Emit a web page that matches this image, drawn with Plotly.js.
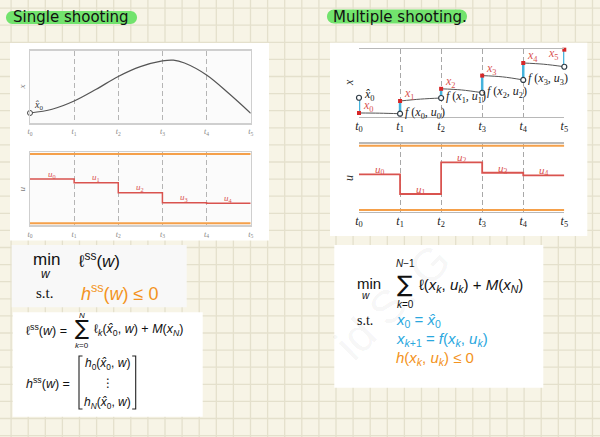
<!DOCTYPE html>
<html><head><meta charset="utf-8">
<script src="https://cdn.plot.ly/plotly-3.0.1.min.js"></script>
<style>html,body{margin:0;padding:0;background:#f7f4e6;} #chart{width:600px;height:437px;}</style>
</head><body><div id="chart"></div>
<script>
// ---------------- DATA ----------------
const tickVals = [0, 1, 2, 3, 4, 5];
const tickLabels = ['<i>t</i><sub>0</sub>', '<i>t</i><sub>1</sub>', '<i>t</i><sub>2</sub>', '<i>t</i><sub>3</sub>', '<i>t</i><sub>4</sub>', '<i>t</i><sub>5</sub>'];
// Single shooting: simulated state trajectory x(t)
const ssTime = [0, 0.5, 1, 1.5, 2, 2.5, 3, 3.25, 3.5, 4, 4.5, 5];
const ssState = [0.142, 0.193, 0.307, 0.469, 0.645, 0.78, 0.86, 0.87, 0.83, 0.665, 0.413, 0.138];
// Single shooting: piecewise constant controls u0..u4
const ssControl = [0.639, 0.586, 0.442, 0.298, 0.289];
// control bounds
const uBounds = [0, 1];
// Multiple shooting: initial value, node states x0..x5, integrator end points f(xk,uk), segment midpoints
const msXhat0 = 0.28;
const msNodes = [0.055, 0.232, 0.412, 0.607, 0.793, 0.99];
const msEnds = [0.044, 0.276, 0.354, 0.543, 0.738];
const msMids = [0.052, 0.26, 0.395, 0.588, 0.775];
// Multiple shooting: controls u0..u4
const msControl = [0.555, 0.249, 0.742, 0.579, 0.539];

// ---------------- HELPERS ----------------
const W = 600, H = 437;
const px = v => v / W;
const py = v => 1 - v / H;
const RED = '#d9534f', ORANGE = '#f5a04a', BLUE = '#45b3dc', DARK = '#2f3b45';
const SERIF = 'Liberation Serif, DejaVu Serif, serif';
const SANS = 'Liberation Sans, Arial, sans-serif';
const sub = (s, k) => '<i>' + s + '</i><sub>' + k + '</sub>';

const traces = [];
const annotations = [];
function dataLabel(text, xa, ya, x, y, o) {
  annotations.push({text: text, xref: xa, yref: ya, x: x, y: y, showarrow: false,
    xanchor: o.xa || 'center', yanchor: 'middle', xshift: o.dx || 0, yshift: o.dy || 0,
    font: {family: SERIF, size: o.size || 12, color: o.color || '#222'}});
}

// ----- left top: single shooting state
traces.push({x: ssTime, y: ssState, xaxis: 'x', yaxis: 'y', mode: 'lines',
  line: {color: '#555', width: 1.2, shape: 'spline'}, cliponaxis: false});
traces.push({x: [tickVals[0]], y: [ssState[0]], xaxis: 'x', yaxis: 'y', mode: 'markers',
  marker: {size: 5, color: '#fff', line: {color: '#444', width: 1}}, cliponaxis: false});
dataLabel('<i>x̂</i><sub>0</sub>', 'x', 'y', tickVals[0], ssState[0], {xa: 'left', dx: 2, dy: 7, size: 10, color: '#333'});
// ----- left bottom: single shooting controls
uBounds.forEach(b => traces.push({x: [tickVals[0], tickVals[5]], y: [b, b], xaxis: 'x2', yaxis: 'y2',
  mode: 'lines', line: {color: ORANGE, width: 2}, cliponaxis: false}));
traces.push({x: tickVals, y: ssControl.concat([ssControl[ssControl.length - 1]]), xaxis: 'x2', yaxis: 'y2',
  mode: 'lines', line: {color: RED, width: 1.5, shape: 'hv'}});
ssControl.forEach((u, k) => dataLabel(sub('u', k), 'x2', 'y2', tickVals[k] + 0.5, u, {dy: 5, size: 9, color: RED}));

// ----- right top: multiple shooting states
const segX = [], segY = [];
msEnds.forEach((f, k) => { segX.push(tickVals[k], tickVals[k] + 0.5, tickVals[k + 1], null); segY.push(msNodes[k], msMids[k], f, null); });
traces.push({x: segX, y: segY, xaxis: 'x3', yaxis: 'y3', mode: 'lines', line: {color: '#555', width: 1, shape: 'spline'}, connectgaps: false, cliponaxis: false});
const defX = [tickVals[0], tickVals[0], null], defY = [msXhat0, msNodes[0], null];
msEnds.forEach((f, k) => { defX.push(tickVals[k + 1], tickVals[k + 1], null); defY.push(f, msNodes[k + 1], null); });
traces.push({x: defX, y: defY, xaxis: 'x3', yaxis: 'y3', mode: 'lines', line: {color: BLUE, width: 2.5}, connectgaps: false, cliponaxis: false});
traces.push({x: tickVals, y: msNodes, xaxis: 'x3', yaxis: 'y3', mode: 'markers',
  marker: {size: 4, symbol: 'square', color: '#d62728'}, cliponaxis: false});
traces.push({x: tickVals, y: [msXhat0].concat(msEnds), xaxis: 'x3', yaxis: 'y3', mode: 'markers',
  marker: {size: 5, color: '#fff', line: {color: DARK, width: 1.2}}, cliponaxis: false});
msNodes.forEach((v, k) => {
  if (k < msNodes.length - 1) dataLabel(sub('x', k), 'x3', 'y3', tickVals[k], v, {xa: 'left', dx: 2, dy: 7, color: RED});
  else dataLabel(sub('x', k), 'x3', 'y3', tickVals[k], v, {xa: 'right', dx: -3, dy: -4, color: RED});
});
dataLabel('<i>x̂</i><sub>0</sub>', 'x3', 'y3', tickVals[0], msXhat0, {xa: 'left', dx: 3, dy: 2.5, color: '#222'});
msEnds.slice(0, 4).forEach((f, k) => dataLabel('<i>f</i> (' + sub('x', k) + ', ' + sub('u', k) + ')', 'x3', 'y3', tickVals[k + 1], f, {xa: 'left', dx: 3, dy: 1, color: '#222'}));

// ----- right bottom: multiple shooting controls
uBounds.forEach(b => traces.push({x: [tickVals[0], tickVals[5]], y: [b, b], xaxis: 'x4', yaxis: 'y4',
  mode: 'lines', line: {color: ORANGE, width: 2}, cliponaxis: false}));
traces.push({x: tickVals, y: msControl.concat([msControl[msControl.length - 1]]), xaxis: 'x4', yaxis: 'y4',
  mode: 'lines', line: {color: RED, width: 1.8, shape: 'hv'}});
msControl.forEach((u, k) => dataLabel(sub('u', k), 'x4', 'y4', tickVals[k] + 0.5, u, {dy: 4, size: 11, color: RED}));

// ---------------- AXES ----------------
function xAxis(d0, d1, anchor, small) {
  return {domain: [px(d0), px(d1)], anchor: anchor, range: [0, 5], tickvals: tickVals, ticktext: tickLabels,
    showgrid: true, gridcolor: small ? '#b5b5b5' : '#a8a8a8', griddash: '5px,3px', gridwidth: 1,
    showline: true, mirror: true, linecolor: small ? '#cfcfcf' : '#b8b8b8', linewidth: 1.5, zeroline: false,
    ticks: '', ticklabelstandoff: small ? 0 : -3,
    tickfont: {family: SERIF, size: small ? 8 : 12, color: small ? '#888' : '#222'}, fixedrange: true};
}
function yAxis(top, bot, anchor, range, small) {
  return {domain: [py(bot), py(top)], anchor: anchor, range: range, showticklabels: false, showgrid: false,
    zeroline: false, showline: small, mirror: true, linecolor: '#cfcfcf', linewidth: 1.5, ticks: '', fixedrange: true};
}

// ---------------- SHAPES (paper decoration) ----------------
const shapes = [];
for (let x = 11.1; x < W; x += 17.1) shapes.push({type: 'line', xref: 'paper', yref: 'paper', x0: px(x), x1: px(x), y0: 0, y1: 1, line: {color: '#e4e0cc', width: 1.3}, layer: 'below'});
for (let y = 8.1; y < H; y += 17.1) shapes.push({type: 'line', xref: 'paper', yref: 'paper', x0: 0, x1: 1, y0: py(y), y1: py(y), line: {color: '#e4e0cc', width: 1.3}, layer: 'below'});
function box(x0, y0, x1, y1, fill) {
  shapes.push({type: 'rect', xref: 'paper', yref: 'paper', x0: px(x0), x1: px(x1), y0: py(y1), y1: py(y0), fillcolor: fill, line: {width: 0}, layer: 'below'});
}
box(10, 43, 269, 240.5, '#ffffff');
box(30, 50.7, 250.7, 123.3, '#fbfbfb');
box(30, 152, 250.7, 225.4, '#fbfbfb');
box(330, 42.7, 587.3, 236, '#ffffff');
box(11.7, 245, 186.7, 307.3, '#f8f8f8');
box(12.7, 312.3, 202.7, 416.7, '#ffffff');
box(334.3, 245, 543.3, 387.7, '#ffffff');
function P(x, y) { return px(x).toFixed(5) + ',' + py(y).toFixed(5); }
function pill(x0, y0, x1, y1) {
  const r = (y1 - y0) / 2, ym = (y0 + y1) / 2;
  const p = 'M' + P(x0 + r, y0) + ' L' + P(x1 - r, y0) + ' C' + P(x1 - r * 0.45, y0) + ' ' + P(x1, ym - r * 0.55) + ' ' + P(x1, ym) +
    ' C' + P(x1, ym + r * 0.55) + ' ' + P(x1 - r * 0.45, y1) + ' ' + P(x1 - r, y1) + ' L' + P(x0 + r, y1) +
    ' C' + P(x0 + r * 0.45, y1) + ' ' + P(x0, ym + r * 0.55) + ' ' + P(x0, ym) +
    ' C' + P(x0, ym - r * 0.55) + ' ' + P(x0 + r * 0.45, y0) + ' ' + P(x0 + r, y0) + ' Z';
  shapes.push({type: 'path', xref: 'paper', yref: 'paper', path: p, fillcolor: '#72e36d', line: {width: 0}, layer: 'below'});
}
pill(6, 11, 137, 24);
pill(327, 9.5, 467, 23.5);
function bracket(xv, xe, y0, y1) {
  shapes.push({type: 'path', xref: 'paper', yref: 'paper', path: 'M' + P(xe, y0) + ' L' + P(xv, y0) + ' L' + P(xv, y1) + ' L' + P(xe, y1),
    line: {color: '#222', width: 1.1}, layer: 'above'});
}
bracket(79, 82.5, 356, 409);
bracket(135.7, 132.2, 356, 409);

// ---------------- TEXT ----------------
function ann(text, x, y, o) {
  o = o || {};
  annotations.push({text: text, xref: 'paper', yref: 'paper', x: px(x), y: py(y), showarrow: false,
    xanchor: o.xa || 'left', yanchor: 'middle', textangle: o.angle || 0,
    font: {family: o.family || SANS, size: o.size || 12, color: o.color || '#111'}});
}
// handwritten section headings
ann('Single shooting', 71, 17, {xa: 'center', size: 15, color: '#111', family: 'DejaVu Sans, sans-serif'});
ann('Multiple shooting.', 400, 16.5, {xa: 'center', size: 15, color: '#111', family: 'DejaVu Sans, sans-serif'});
// y-axis labels
ann('<i>x</i>', 21.5, 87, {xa: 'center', size: 9, color: '#777', family: SERIF, angle: -90});
ann('<i>u</i>', 21.5, 189, {xa: 'center', size: 9, color: '#777', family: SERIF, angle: -90});
ann('<i>x</i>', 349, 83, {xa: 'center', size: 12, color: '#333', family: SERIF, angle: -90});
ann('<i>u</i>', 349, 178, {xa: 'center', size: 12, color: '#333', family: SERIF, angle: -90});
// watermark
ann('id S. G', 392, 302, {xa: 'center', size: 46, color: 'rgba(0,0,0,0.05)', angle: -45});
// left formula box 1
ann('min', 31, 259.5, {size: 17});
ann('<i>w</i>', 45.5, 274, {xa: 'center', size: 12});
ann('ℓ<sup>ss</sup>(<i>w</i>)', 76, 260, {size: 17});
ann('s.t.', 33.5, 292.5, {size: 15, family: SERIF});
ann('<i>h</i><sup>ss</sup>(<i>w</i>) ≤ 0', 79, 292, {size: 18, color: '#f39321'});
// left formula box 2
ann('ℓ<sup>ss</sup>(<i>w</i>) =', 24, 330, {size: 12.5});
ann('∑', 81.5, 327.5, {xa: 'center', size: 21, family: 'DejaVu Sans, sans-serif'});
ann('<i>N</i>', 81.5, 315.5, {xa: 'center', size: 8});
ann('<i>k</i>=0', 81.5, 345, {xa: 'center', size: 8});
ann('ℓ<sub><i>k</i></sub>(<i>x̂</i><sub>0</sub>, <i>w</i>) + <i>M</i>(<i>x</i><sub><i>N</i></sub>)', 91.5, 330, {size: 12.5});
ann('<i>h</i><sup>ss</sup>(<i>w</i>) =', 24, 383, {size: 12.5});
ann('<i>h</i><sub>0</sub>(<i>x̂</i><sub>0</sub>, <i>w</i>)', 107.5, 363.5, {xa: 'center', size: 12});
ann('⋮', 107.5, 383, {xa: 'center', size: 12, family: 'DejaVu Sans, sans-serif'});
ann('<i>h</i><sub><i>N</i></sub>(<i>x̂</i><sub>0</sub>, <i>w</i>)', 107.5, 402.5, {xa: 'center', size: 12});
// right formula box
ann('min', 354.5, 283.5, {size: 15});
ann('<i>w</i>', 366, 295.5, {xa: 'center', size: 10});
ann('∑', 405, 283.5, {xa: 'center', size: 23, family: 'DejaVu Sans, sans-serif'});
ann('<i>N</i>−1', 405, 263, {xa: 'center', size: 10});
ann('<i>k</i>=0', 405, 304, {xa: 'center', size: 10});
ann('ℓ(<i>x</i><sub><i>k</i></sub>, <i>u</i><sub><i>k</i></sub>) + <i>M</i>(<i>x</i><sub><i>N</i></sub>)', 416.5, 285, {size: 15});
ann('s.t.', 355, 320, {size: 14, family: SERIF});
ann('<i>x</i><sub>0</sub> = <i>x̂</i><sub>0</sub>', 393.5, 320, {size: 15, color: '#2aa7de'});
ann('<i>x</i><sub><i>k</i>+1</sub> = <i>f</i>(<i>x</i><sub><i>k</i></sub>, <i>u</i><sub><i>k</i></sub>)', 393.5, 339.5, {size: 15, color: '#2aa7de'});
ann('<i>h</i>(<i>x</i><sub><i>k</i></sub>, <i>u</i><sub><i>k</i></sub>) ≤ 0', 393.5, 358.5, {size: 15, color: '#f39321'});

const layout = {
  width: W, height: H, margin: {l: 0, r: 0, t: 0, b: 0}, showlegend: false, hovermode: false,
  paper_bgcolor: '#f7f4e6', plot_bgcolor: 'rgba(0,0,0,0)', font: {family: SANS},
  xaxis: xAxis(30, 250.7, 'y', true), yaxis: yAxis(50.7, 123.3, 'x', [0, 1], true),
  xaxis2: xAxis(30, 250.7, 'y2', true), yaxis2: yAxis(152, 225.4, 'x2', [-0.03, 1.03], true),
  xaxis3: xAxis(359, 564.3, 'y3', false), yaxis3: yAxis(49, 116.7, 'x3', [0, 1], false),
  xaxis4: xAxis(359, 564.3, 'y4', false), yaxis4: yAxis(143.8, 211.9, 'x4', [-0.03, 1.03], false),
  shapes: shapes, annotations: annotations
};
Plotly.newPlot('chart', traces, layout, {staticPlot: true, displayModeBar: false});
</script></body></html>
